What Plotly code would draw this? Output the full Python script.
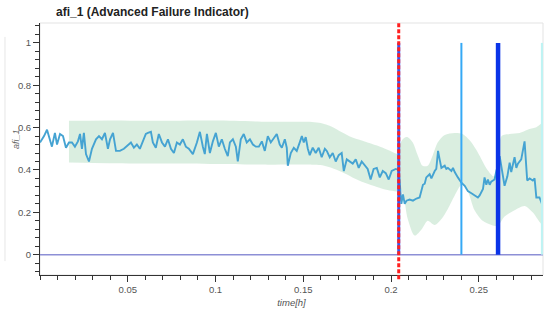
import plotly.graph_objects as go

# ---- data ----
time_h = [0.0000, 0.0023, 0.0040, 0.0057, 0.0068, 0.0085, 0.0097, 0.0114, 0.0131, 0.0148,
          0.0165, 0.0182, 0.0199, 0.0216, 0.0228, 0.0239, 0.0250, 0.0262, 0.0279, 0.0296,
          0.0319, 0.0336, 0.0353, 0.0370, 0.0387, 0.0399, 0.0416, 0.0433, 0.0455, 0.0478,
          0.0501, 0.0518, 0.0535, 0.0552, 0.0569, 0.0586, 0.0603, 0.0615, 0.0632, 0.0643,
          0.0660, 0.0677, 0.0695, 0.0712, 0.0729, 0.0746, 0.0763, 0.0780, 0.0797, 0.0814,
          0.0831, 0.0848, 0.0871, 0.0894, 0.0911, 0.0928, 0.0939, 0.0951, 0.0968, 0.0985,
          0.1002, 0.1019, 0.1036, 0.1053, 0.1070, 0.1082, 0.1099, 0.1116, 0.1127, 0.1144,
          0.1161, 0.1178, 0.1196, 0.1213, 0.1230, 0.1247, 0.1264, 0.1281, 0.1298, 0.1315,
          0.1332, 0.1349, 0.1366, 0.1378, 0.1395, 0.1406, 0.1412, 0.1429, 0.1446, 0.1463,
          0.1480, 0.1492, 0.1503, 0.1514, 0.1526, 0.1537, 0.1554, 0.1571, 0.1588, 0.1605,
          0.1623, 0.1634, 0.1651, 0.1668, 0.1685, 0.1702, 0.1719, 0.1731, 0.1748, 0.1765,
          0.1782, 0.1799, 0.1816, 0.1833, 0.1850, 0.1867, 0.1884, 0.1901, 0.1919, 0.1936,
          0.1953, 0.1970, 0.1987, 0.2004, 0.2027, 0.2044, 0.2059, 0.2068, 0.2078, 0.2088,
          0.2106, 0.2125, 0.2145, 0.2163, 0.2182, 0.2192, 0.2201, 0.2220, 0.2230, 0.2239,
          0.2249, 0.2258, 0.2268, 0.2277, 0.2287, 0.2306, 0.2315, 0.2324, 0.2344, 0.2353,
          0.2363, 0.2381, 0.2401, 0.2420, 0.2438, 0.2458, 0.2476, 0.2495, 0.2505, 0.2524,
          0.2533, 0.2543, 0.2552, 0.2562, 0.2571, 0.2590, 0.2600, 0.2609, 0.2619, 0.2638,
          0.2647, 0.2663, 0.2676, 0.2685, 0.2704, 0.2714, 0.2723, 0.2742, 0.2761, 0.2776,
          0.2790, 0.2808, 0.2818, 0.2828, 0.2846, 0.2860]
afi_1 = [0.53, 0.56, 0.59, 0.545, 0.51, 0.575, 0.52, 0.57, 0.56, 0.505,
         0.53, 0.53, 0.51, 0.535, 0.57, 0.50, 0.575, 0.475, 0.44, 0.50,
         0.545, 0.56, 0.545, 0.575, 0.50, 0.545, 0.575, 0.49, 0.49, 0.50,
         0.52, 0.53, 0.505, 0.52, 0.50, 0.535, 0.57, 0.575, 0.58, 0.53,
         0.505, 0.57, 0.53, 0.51, 0.545, 0.50, 0.48, 0.53, 0.52, 0.545,
         0.51, 0.50, 0.475, 0.53, 0.58, 0.51, 0.475, 0.57, 0.48, 0.535,
         0.575, 0.51, 0.545, 0.50, 0.465, 0.53, 0.545, 0.51, 0.44, 0.545,
         0.57, 0.53, 0.545, 0.52, 0.51, 0.51, 0.535, 0.49, 0.56, 0.53,
         0.55, 0.57, 0.52, 0.505, 0.545, 0.505, 0.42, 0.48, 0.505, 0.49,
         0.53, 0.56, 0.53, 0.555, 0.50, 0.47, 0.505, 0.48, 0.505, 0.46,
         0.50, 0.49, 0.46, 0.48, 0.44, 0.47, 0.48, 0.395, 0.45, 0.44,
         0.43, 0.45, 0.41, 0.44, 0.42, 0.405, 0.355, 0.405, 0.41, 0.365,
         0.395, 0.385, 0.355, 0.395, 0.405, 0.40, 0.24, 0.285, 0.24, 0.255,
         0.26, 0.255, 0.265, 0.27, 0.33, 0.335, 0.365, 0.38, 0.36, 0.38,
         0.395, 0.405, 0.49, 0.45, 0.41, 0.42, 0.405, 0.41, 0.395, 0.41,
         0.39, 0.365, 0.34, 0.325, 0.30, 0.29, 0.28, 0.27, 0.28, 0.31,
         0.365, 0.33, 0.355, 0.33, 0.345, 0.355, 0.395, 0.42, 0.465, 0.38,
         0.325, 0.37, 0.435, 0.39, 0.46, 0.41, 0.43, 0.45, 0.535, 0.35,
         0.36, 0.35, 0.36, 0.27, 0.27, 0.24]

band_upper_t = [0.0165, 0.04, 0.07, 0.10, 0.13, 0.155, 0.160, 0.166, 0.172, 0.178, 0.185,
                0.192, 0.198, 0.2044, 0.2050, 0.2073, 0.2095, 0.2124, 0.2152, 0.2180, 0.2209,
                0.2238, 0.2266, 0.2306, 0.2363, 0.2408, 0.2448, 0.2482, 0.2516, 0.2550,
                0.2585, 0.2607, 0.2630, 0.2676, 0.2733, 0.2778, 0.2824, 0.2866]
band_upper = [0.632, 0.634, 0.632, 0.633, 0.628, 0.627, 0.622, 0.605, 0.578, 0.553, 0.535,
              0.515, 0.495, 0.475, 0.52, 0.55, 0.555, 0.53, 0.47, 0.42, 0.42,
              0.47, 0.53, 0.565, 0.575, 0.57, 0.54, 0.50, 0.45, 0.40,
              0.37, 0.40, 0.56, 0.57, 0.575, 0.59, 0.60, 0.62]
band_lower_t = [0.0165, 0.04, 0.07, 0.10, 0.13, 0.155, 0.160, 0.166, 0.172, 0.178, 0.185,
                0.192, 0.198, 0.2044, 0.2050, 0.2073, 0.2095, 0.2135, 0.2175, 0.2209, 0.2249,
                0.2289, 0.2323, 0.2363, 0.2403, 0.2437, 0.2476, 0.2522, 0.2573, 0.2607,
                0.2647, 0.2704, 0.2761, 0.2807, 0.2866]
band_lower = [0.435, 0.432, 0.43, 0.428, 0.425, 0.425, 0.423, 0.41, 0.39, 0.365, 0.34,
              0.32, 0.305, 0.30, 0.32, 0.27, 0.17, 0.09, 0.12, 0.16, 0.14,
              0.17, 0.215, 0.28, 0.33, 0.30, 0.21, 0.16, 0.14, 0.135,
              0.18, 0.21, 0.23, 0.20, 0.14]

event_t = [0.2044, 0.2401, 0.2610, 0.2861]
event_colors = ["#2a5cff", "#35a9f5", "#0a34e8", "#bff3f3"]
event_widths = [3, 2, 4.5, 2.5]
failure_t = 0.2044

fig = go.Figure()

# confidence band
fig.add_trace(go.Scatter(
    x=band_upper_t + band_lower_t[::-1],
    y=band_upper + band_lower[::-1],
    fill="toself", fillcolor="rgba(205,232,214,0.75)",
    line=dict(width=0, shape="spline", smoothing=0.8),
    mode="lines", hoverinfo="skip", showlegend=False))

# zero baseline
fig.add_trace(go.Scatter(x=[0, 0.2866], y=[0, 0], mode="lines",
                         line=dict(color="#8d8fd6", width=1.5), showlegend=False))

# main series
fig.add_trace(go.Scatter(x=time_h, y=afi_1, mode="lines",
                         line=dict(color="#45a3d2", width=1.9), showlegend=False))

# event lines
for t, c, w in zip(event_t, event_colors, event_widths):
    fig.add_trace(go.Scatter(x=[t, t], y=[0, 1], mode="lines",
                             line=dict(color=c, width=w), showlegend=False))

# failure marker (red dashed)
fig.add_shape(type="line", xref="x", yref="paper", x0=failure_t, x1=failure_t,
              y0=-0.017, y1=1, line=dict(color="#ff2020", width=3, dash="4px,2px"),
              layer="above")

# light frame
fig.add_shape(type="rect", xref="paper", yref="paper", x0=0, x1=1, y0=0, y1=1,
              line=dict(color="#e3e3e3", width=1), layer="below")
# faint left separator line
fig.add_shape(type="line", xref="paper", yref="paper", x0=-0.0696, x1=-0.0696,
              y0=0.055, y1=0.945, line=dict(color="#e6e6e6", width=1))

axis_font = dict(family="Liberation Sans, Arial, sans-serif", size=9.5, color="#555")

fig.update_layout(
    width=550, height=313,
    margin=dict(l=40, r=7, t=23, b=36),
    paper_bgcolor="white", plot_bgcolor="white",
    xaxis=dict(range=[0, 0.2866], showgrid=False, zeroline=False,
               showline=True, linecolor="#333", linewidth=1,
               tickvals=[0.05, 0.1, 0.15, 0.2, 0.25],
               ticks="outside", ticklen=6, tickcolor="#333", tickfont=axis_font,
               minor=dict(dtick=0.01, tick0=0, ticks="outside", ticklen=4, tickcolor="#333"),
               title=dict(text="<i>time[h]</i>", font=dict(family="Liberation Sans, Arial, sans-serif",
                                                            size=9.5, color="#555"), standoff=4)),
    yaxis=dict(range=[-0.096, 1.094], showgrid=False, zeroline=False,
               showline=True, linecolor="#333", linewidth=1,
               tick0=0, dtick=0.2,
               ticks="outside", ticklen=6, tickcolor="#333", tickfont=axis_font,
               minor=dict(dtick=0.04, tick0=0, ticks="outside", ticklen=4, tickcolor="#333")),
    annotations=[
        dict(text="<b>afi_1 (Advanced Failure Indicator)</b>", xref="paper", yref="paper",
             x=14 / 503, y=1 + (23 - 12) / 254, xanchor="left", yanchor="middle", showarrow=False,
             font=dict(family="Liberation Sans, Arial, sans-serif", size=12, color="#222")),
        dict(text="<i>afi_1</i>", xref="paper", yref="paper",
             x=(16 - 40) / 503, y=(277 - 140) / 254, textangle=-90,
             showarrow=False, xanchor="center", yanchor="middle",
             font=dict(family="Liberation Sans, Arial, sans-serif", size=9, color="#666"))],
)

fig.write_html("out.html", config={"displayModeBar": False},
               post_script="document.body.style.margin='0';document.body.style.overflow='hidden';")
